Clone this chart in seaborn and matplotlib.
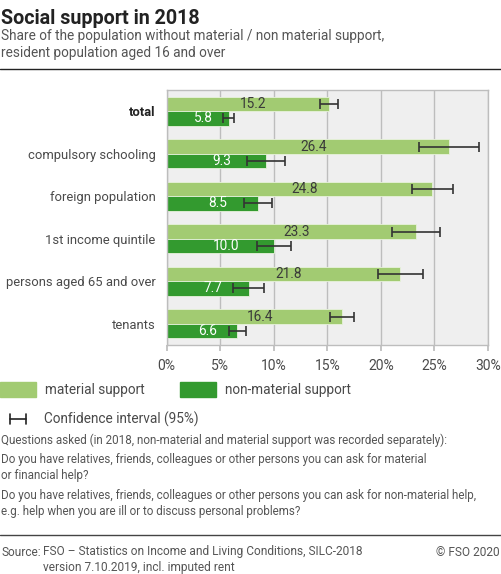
import matplotlib
matplotlib.use("Agg")
import numpy as np
import pandas as pd
import matplotlib.pyplot as plt
import seaborn as sns
from matplotlib.patches import Rectangle
from matplotlib.lines import Line2D

# data
categories = ["total", "compulsory schooling", "foreign population",
              "1st income quintile", "persons aged 65 and over", "tenants"]
series = ["material support", "non-material support"]
material = [15.2, 26.4, 24.8, 23.3, 21.8, 16.4]
material_lo = [14.3, 23.6, 22.9, 21.0, 19.7, 15.3]
material_hi = [16.0, 29.2, 26.7, 25.5, 23.9, 17.5]
non_material = [5.8, 9.3, 8.5, 10.0, 7.7, 6.6]
non_material_lo = [5.3, 7.5, 7.2, 8.4, 6.2, 5.8]
non_material_hi = [6.3, 11.1, 9.8, 11.6, 9.1, 7.4]
x_ticks = [0, 5, 10, 15, 20, 25, 30]

LIGHT = "#a2cb72"
DARK = "#339a2f"
TXT = "#4a4a4a"
W, H = 501, 574


def fx(px):
    return px / W


def fy(py):
    return 1 - py / H


df = pd.DataFrame({
    "category": categories * 2,
    "series": [series[0]] * len(categories) + [series[1]] * len(categories),
    "value": material + non_material,
})
ci = {series[0]: (material, material_lo, material_hi),
      series[1]: (non_material, non_material_lo, non_material_hi)}

sns.set_theme(style="white")
plt.rcParams["font.family"] = ["Roboto", "DejaVu Sans"]

fig = plt.figure(figsize=(W / 100, H / 100), dpi=100)
ax = fig.add_axes([fx(166.5), fy(345), fx(488) - fx(166.5), (345 - 90) / H])

sns.barplot(data=df, y="category", x="value", hue="series", order=categories,
            hue_order=series, palette=[LIGHT, DARK], saturation=1, width=0.68,
            orient="h", legend=False, ax=ax, zorder=2, linewidth=0.6,
            edgecolor="#e8f2dc")

# error bars and value labels, placed on the bars seaborn drew
for container, name, txt_color in zip(ax.containers, series, ["#3a3a3a", "white"]):
    vals, lo, hi = ci[name]
    for bar in container:
        y = bar.get_y() + bar.get_height() / 2
        i = int(round(y))
        v = vals[i]
        ax.errorbar(v, y, xerr=[[v - lo[i]], [hi[i] - v]], fmt="none",
                    ecolor="#333333", elinewidth=1.2, capsize=3.5, capthick=1.2,
                    zorder=4)
        ax.annotate(f"{v:.1f}", xy=(v / 2, y), xytext=(4, 0),
                    textcoords="offset points", ha="center", va="center",
                    color=txt_color, fontsize=9.8, zorder=5)

ax.set_xlim(0, 30)
ax.set_ylim(5.5, -0.5)
ax.set_xticks(x_ticks)
ax.set_xticklabels([f"{t}%" for t in x_ticks])
ax.set_xlabel("")
ax.set_ylabel("")
ax.set_facecolor("#efefef")
ax.grid(axis="x", color="#bdbdbd", lw=1, zorder=0)
ax.set_axisbelow(True)
for sp in ax.spines.values():
    sp.set_color("#bdbdbd")
    sp.set_linewidth(1)
ax.tick_params(axis="x", length=4, color="#bdbdbd", pad=6, labelsize=10,
               labelcolor=TXT, bottom=True)
ax.tick_params(axis="y", length=0, pad=8, labelsize=9.4, labelcolor=TXT)
ax.get_yticklabels()[0].set_fontweight("bold")
ax.get_yticklabels()[0].set_color("#222222")

# header
fig.text(fx(1), fy(18), "Social support in 2018", fontsize=14.2, weight="bold",
         color="#222222", va="center")
fig.text(fx(1), fy(36), "Share of the population without material / non material support,",
         fontsize=9.8, color="#555555", va="center")
fig.text(fx(1), fy(53), "resident population aged 16 and over",
         fontsize=9.8, color="#555555", va="center")
fig.add_artist(Line2D([0, 1], [fy(69), fy(69)], color="#222222", lw=1))

# legend
fig.add_artist(Rectangle((fx(0), fy(397)), fx(36), 15 / H, color=LIGHT,
                         transform=fig.transFigure))
fig.text(fx(45), fy(390), series[0], fontsize=9.8, color=TXT, va="center")
fig.add_artist(Rectangle((fx(180), fy(397)), fx(36), 15 / H, color=DARK,
                         transform=fig.transFigure))
fig.text(fx(225), fy(390), series[1], fontsize=9.8, color=TXT, va="center")
fig.add_artist(Line2D([fx(10), fx(26)], [fy(419), fy(419)], color="#222222", lw=1.2))
for cx in (10, 26):
    fig.add_artist(Line2D([fx(cx), fx(cx)], [fy(414), fy(424)], color="#222222", lw=1.2))
fig.text(fx(44), fy(419), "Confidence interval (95%)", fontsize=9.8,
         color=TXT, va="center")

# notes
notes = [
    (440, "Questions asked (in 2018, non-material and material support was recorded separately):"),
    (460, "Do you have relatives, friends, colleagues or other persons you can ask for material"),
    (475, "or financial help?"),
    (496, "Do you have relatives, friends, colleagues or other persons you can ask for non-material help,"),
    (511, "e.g. help when you are ill or to discuss personal problems?"),
]
for py, s in notes:
    fig.text(fx(1), fy(py), s, fontsize=8.4, color="#555555", va="center")

# footer
fig.add_artist(Line2D([0, 1], [fy(535), fy(535)], color="#444444", lw=1))
fig.text(fx(1), fy(552), "Source:", fontsize=8.6, color="#555555", va="center")
fig.text(fx(43), fy(552), "FSO \u2013 Statistics on Income and Living Conditions, SILC-2018",
         fontsize=8.6, color="#555555", va="center")
fig.text(fx(43), fy(567), "version 7.10.2019, incl. imputed rent",
         fontsize=8.6, color="#555555", va="center")
fig.text(fx(500), fy(552), "\u00a9 FSO 2020", fontsize=8.6, color="#555555",
         va="center", ha="right")

fig.savefig("out.png", dpi=100)
